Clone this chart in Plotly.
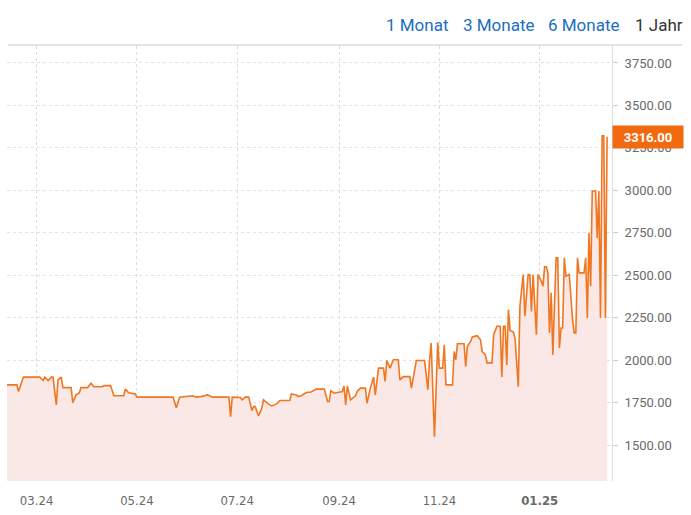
import plotly.graph_objects as go

# ---- data ----
dates_feb_may = ["2024-02-12","2024-02-18","2024-02-19","2024-02-22","2024-03-03","2024-03-05","2024-03-06","2024-03-08",
                 "2024-03-10","2024-03-11","2024-03-13","2024-03-14","2024-03-16","2024-03-17","2024-03-22","2024-03-23",
                 "2024-03-25","2024-03-27","2024-03-28","2024-04-01","2024-04-03","2024-04-05","2024-04-10","2024-04-11",
                 "2024-04-15","2024-04-17","2024-04-23","2024-04-24","2024-04-26","2024-04-30","2024-05-01","2024-05-23",
                 "2024-05-25","2024-05-27","2024-06-04","2024-06-06"]
values_feb_may = [1854,1854,1815,1900,1900,1880,1900,1880,1900,1900,1736,1884,1900,1838,1838,1750,1795,1807,1838,
                  1838,1864,1843,1843,1850,1850,1790,1790,1829,1807,1800,1782,1782,1720,1782,1790,1782]

dates_jun_aug = ["2024-06-09","2024-06-13","2024-06-16","2024-06-26","2024-06-27","2024-06-28","2024-07-03","2024-07-04",
                 "2024-07-06","2024-07-08","2024-07-10","2024-07-11","2024-07-12","2024-07-14","2024-07-16","2024-07-17",
                 "2024-07-20","2024-07-22","2024-07-25","2024-07-27","2024-08-02","2024-08-03","2024-08-06","2024-08-07",
                 "2024-08-09","2024-08-12","2024-08-15","2024-08-18","2024-08-23","2024-08-25","2024-08-26","2024-08-27",
                 "2024-08-29"]
values_jun_aug = [1785,1795,1782,1782,1667,1782,1780,1766,1782,1782,1703,1726,1726,1671,1717,1766,1742,1730,1742,1762,
                  1762,1801,1795,1785,1790,1809,1812,1829,1829,1756,1756,1820,1805]

dates_sep_nov = ["2024-09-03","2024-09-04","2024-09-05","2024-09-06","2024-09-08","2024-09-11","2024-09-12","2024-09-14",
                 "2024-09-17","2024-09-18","2024-09-20","2024-09-22","2024-09-23","2024-09-25","2024-09-28","2024-09-29",
                 "2024-09-30","2024-10-02","2024-10-04","2024-10-07","2024-10-08","2024-10-10","2024-10-14","2024-10-15",
                 "2024-10-18","2024-10-23","2024-10-25","2024-10-26","2024-10-27","2024-10-29","2024-10-31","2024-11-01",
                 "2024-11-03","2024-11-04","2024-11-05","2024-11-09","2024-11-10","2024-11-11","2024-11-12","2024-11-16",
                 "2024-11-17","2024-11-18","2024-11-20","2024-11-21","2024-11-24","2024-11-26","2024-11-27","2024-11-29",
                 "2024-11-30"]
values_sep_nov = [1815,1848,1736,1848,1766,1790,1815,1835,1835,1746,1835,1900,1795,1953,1953,1874,1998,
                  1953,2002,2002,1884,1903,1903,1835,1998,1998,1825,1998,2100,1549,2104,
                  1953,1953,2090,1854,1854,2051,2002,2096,2096,1962,2080,2110,2136,2144,2120,2051,2031,1984]

dates_dec_feb = ["2024-12-03","2024-12-04","2024-12-06","2024-12-08","2024-12-09","2024-12-10","2024-12-11","2024-12-12",
                 "2024-12-13","2024-12-14","2024-12-16","2024-12-17","2024-12-19","2024-12-20","2024-12-22","2024-12-23",
                 "2024-12-25","2024-12-26","2024-12-27","2024-12-28","2024-12-30","2024-12-31","2025-01-02","2025-01-03",
                 "2025-01-04","2025-01-05","2025-01-06","2025-01-07","2025-01-08","2025-01-09","2025-01-11","2025-01-12",
                 "2025-01-13","2025-01-14","2025-01-15","2025-01-16","2025-01-17","2025-01-19","2025-01-21","2025-01-22",
                 "2025-01-23","2025-01-24","2025-01-25","2025-01-28","2025-01-29","2025-01-30","2025-01-31","2025-02-01",
                 "2025-02-02","2025-02-04","2025-02-05","2025-02-06","2025-02-07","2025-02-08","2025-02-09","2025-02-10",
                 "2025-02-11"]
values_dec_feb = [1984,2150,2199,2199,1900,2199,2199,1972,2297,2175,2165,2130,1844,2317,2504,2258,2504,2504,2287,2504,2150,2504,
                  2464,2435,2549,2549,2514,2160,2396,2031,2603,2603,2071,2189,2189,2603,2494,2504,2238,2160,2160,2603,2514,2514,2603,2248,2750,
                  2435,2996,2996,2720,2996,2248,3321,3321,2248,3316]

tick_dates = ["2024-03-01","2024-05-01","2024-07-01","2024-09-01","2024-11-01","2025-01-01"]
tick_labels = ["03.24","05.24","07.24","09.24","11.24","<b>01.25</b>"]
range_buttons = ["1 Monat","3 Monate","6 Monate","1 Jahr"]

dates = dates_feb_may + dates_jun_aug + dates_sep_nov + dates_dec_feb
values = values_feb_may + values_jun_aug + values_sep_nov + values_dec_feb
last_value = values[-1]

# ---- figure ----
W, H = 691, 515
ML, MR, MT, MB = 7, 79, 46, 34
pw, ph = W - ML - MR, H - MT - MB

def px_x(p):
    return (p - ML) / pw

def px_y(p):
    return (H - MB - p) / ph

LINE = "#f07620"
FILL = "#f9e8e6"

fig = go.Figure()
fig.add_trace(go.Scatter(
    x=dates, y=values, mode="lines",
    line=dict(color=LINE, width=1.6),
    fill="tozeroy", fillcolor=FILL,
    hoverinfo="skip", showlegend=False,
))

fig.update_layout(
    width=W, height=H,
    margin=dict(l=ML, r=MR, t=MT, b=MB, pad=0),
    paper_bgcolor="white", plot_bgcolor="white",
    showlegend=False,
    xaxis=dict(
        type="date",
        range=["2024-02-12", "2025-02-14"],
        tickvals=tick_dates, ticktext=tick_labels,
        showgrid=True, gridcolor="#dcdcdc", griddash="dot", gridwidth=1,
        showline=False, zeroline=False, ticks="",
        tickfont=dict(family="DejaVu Sans Condensed, DejaVu Sans", size=13, color="#6a6a6a"),
        ticklabelstandoff=10,
    ),
    yaxis=dict(
        side="right",
        range=[1288, 3850],
        tick0=1500, dtick=250, tickformat=".2f",
        showgrid=True, gridcolor="#e2e2e2", griddash="3px,3px", gridwidth=1,
        zeroline=False,
        showline=True, linecolor="#dddddd", linewidth=1,
        ticks="outside", ticklen=5, tickcolor="#cccccc",
        tickfont=dict(family="Roboto", size=13, color="#6a6a6a"),
        ticklabelstandoff=4,
    ),
)

# top separator line under the range buttons
fig.add_shape(type="line", xref="paper", yref="paper",
              x0=px_x(8), x1=px_x(682), y0=px_y(45), y1=px_y(45),
              line=dict(color="#c8c8c8", width=1))

# range buttons
btn_left = [385, 462, 547, 634]
for label, left in zip(range_buttons, btn_left):
    fig.add_annotation(
        text=label, xref="paper", yref="paper",
        x=px_x(left), y=px_y(25), xanchor="left", yanchor="middle",
        showarrow=False, borderpad=0,
        font=dict(family="Roboto", size=17, color="#333333" if label == "1 Jahr" else "#1b6ec2"),
    )

# last price label
fig.add_annotation(
    text="<b>%.2f</b>" % last_value,
    xref="paper", yref="y", x=1.0, y=last_value,
    xanchor="left", yanchor="middle", showarrow=False,
    bgcolor="#f26a10", width=70, height=22, borderpad=0,
    font=dict(family="Roboto", size=13, color="white"),
)

fig.write_html("out.html",
               config={"displayModeBar": False},
               post_script="document.body.style.margin='0';document.body.style.padding='0';")
